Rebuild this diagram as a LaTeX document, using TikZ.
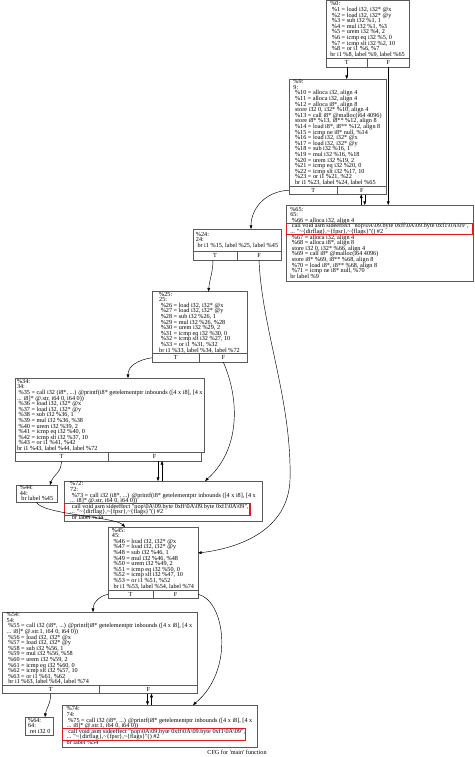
\documentclass[tikz,border=0pt]{standalone}
\usepackage{fontspec}
\usetikzlibrary{arrows.meta}
\newfontfamily\cfgfont{Liberation Serif}
\newcommand\cfgsize{\cfgfont\fontsize{6.2pt}{5.6pt}\selectfont\lineskiplimit=-4pt\relax}
\newcommand\BSL{\textbackslash}
\newcommand\TLD{\textasciitilde}
\newcommand\IN{\hspace*{1.6pt}}
\newcommand\FS{\rule{0pt}{4.6pt}}
\newcommand\LS{\rule[-1.4pt]{0pt}{1.4pt}}
\newcommand\REDA{call void asm sideeffect "nop\BSL 0A\BSL 09.byte 0xff\BSL 0A\BSL 09.byte 0xf1\BSL 0A\BSL 09",}
\newcommand\REDB{... "\TLD\{dirflag\},\TLD\{fpsr\},\TLD\{flags\}"() \#2}
\definecolor{hl}{RGB}{225,25,35}
\definecolor{bx}{RGB}{90,90,90}
\tikzset{
  blk/.style={draw=bx, line width=0.55pt, fill=white, anchor=north west, inner xsep=2pt, inner ysep=0pt, outer sep=0pt, font=\cfgsize, align=left},
  tfcell/.style={draw=bx, line width=0.55pt, fill=white, anchor=north west, inner sep=0pt, outer sep=0pt, minimum height=8.5pt, font=\cfgsize},
  arr/.style={draw=black, line width=0.45pt, -{Triangle[length=3.6pt,width=2.8pt]}},
  redbox/.style={draw=hl, line width=1.1pt},
}
\newcommand\TFrow[2]{%
  \node[tfcell, minimum width=#2] (#1T) at (#1.south west) {T};
  \node[tfcell, minimum width=#2] (#1F) at (#1T.north east) {F};}
\begin{document}
\begin{tikzpicture}[x=1pt,y=-1pt]
\fill[white] (0,0) rectangle (474,757);
\useasboundingbox (0,0) rectangle (474,757);

% %0
\node[blk, minimum width=83pt, minimum height=58pt] (n0) at (326,0.5) {\FS\%0:\\
\IN\%1 = load i32, i32* @x\\
\IN\%2 = load i32, i32* @y\\
\IN\%3 = sub i32 \%1, 1\\
\IN\%4 = mul i32 \%1, \%3\\
\IN\%5 = urem i32 \%4, 2\\
\IN\%6 = icmp eq i32 \%5, 0\\
\IN\%7 = icmp slt i32 \%2, 10\\
\IN\%8 = or i1 \%6, \%7\\
br i1 \%8, label \%9, label \%65\LS};
\TFrow{n0}{41.5pt}

% %9
\node[blk, minimum width=97pt, minimum height=107pt] (n9) at (289,79) {\FS\%9:\\
9:\\
\IN\%10 = alloca i32, align 4\\
\IN\%11 = alloca i32, align 4\\
\IN\%12 = alloca i8*, align 8\\
\IN store i32 0, i32* \%10, align 4\\
\IN\%13 = call i8* @malloc(i64 4096)\\
\IN store i8* \%13, i8** \%12, align 8\\
\IN\%14 = load i8*, i8** \%12, align 8\\
\IN\%15 = icmp ne i8* null, \%14\\
\IN\%16 = load i32, i32* @x\\
\IN\%17 = load i32, i32* @y\\
\IN\%18 = sub i32 \%16, 1\\
\IN\%19 = mul i32 \%16, \%18\\
\IN\%20 = urem i32 \%19, 2\\
\IN\%21 = icmp eq i32 \%20, 0\\
\IN\%22 = icmp slt i32 \%17, 10\\
\IN\%23 = or i1 \%21, \%22\\
\IN br i1 \%23, label \%24, label \%65\LS};
\TFrow{n9}{48.5pt}

% %65
\node[blk, minimum width=187pt, minimum height=76pt] (n65) at (286,205) {\FS\%65:\\
65:\\
\IN\%66 = alloca i32, align 4\\
\IN\REDA\\
\REDB\\
\IN\%67 = alloca i32, align 4\\
\IN\%68 = alloca i8*, align 8\\
\IN store i32 0, i32* \%66, align 4\\
\IN\%69 = call i8* @malloc(i64 4096)\\
\IN store i8* \%69, i8** \%68, align 8\\
\IN\%70 = load i8*, i8** \%68, align 8\\
\IN\%71 = icmp ne i8* null, \%70\\
br label \%9\LS};
\draw[redbox] ([xshift=0.6pt,yshift=-18.1pt]n65.north west) rectangle ([xshift=-0.6pt,yshift=-29.9pt]n65.north east);

% %24
\node[blk, minimum width=88pt, minimum height=22.5pt] (n24) at (193,229) {\FS\%24:\\
24:\\
\IN br i1 \%15, label \%25, label \%45\LS};
\TFrow{n24}{44pt}

% %25
\node[blk, minimum width=95pt, minimum height=62pt] (n25) at (152,291.5) {\FS\%25:\\
25:\\
\IN\%26 = load i32, i32* @x\\
\IN\%27 = load i32, i32* @y\\
\IN\%28 = sub i32 \%26, 1\\
\IN\%29 = mul i32 \%26, \%28\\
\IN\%30 = urem i32 \%29, 2\\
\IN\%31 = icmp eq i32 \%30, 0\\
\IN\%32 = icmp slt i32 \%27, 10\\
\IN\%33 = or i1 \%31, \%32\\
br i1 \%33, label \%34, label \%72\LS};
\TFrow{n25}{47.5pt}

% %34
\node[blk, minimum width=186pt, minimum height=74.5pt] (n34) at (15,378) {\FS\%34:\\
34:\\
\IN\%35 = call i32 (i8*, ...) @printf(i8* getelementptr inbounds ([4 x i8], [4 x\\
... i8]* @.str, i64 0, i64 0))\\
\IN\%36 = load i32, i32* @x\\
\IN\%37 = load i32, i32* @y\\
\IN\%38 = sub i32 \%36, 1\\
\IN\%39 = mul i32 \%36, \%38\\
\IN\%40 = urem i32 \%39, 2\\
\IN\%41 = icmp eq i32 \%40, 0\\
\IN\%42 = icmp slt i32 \%37, 10\\
\IN\%43 = or i1 \%41, \%42\\
br i1 \%43, label \%44, label \%72\LS};
\TFrow{n34}{93pt}

% %72
\node[blk, minimum width=198pt, minimum height=40pt] (n72) at (64,481) {\FS\%72:\\
72:\\
\IN\%73 = call i32 (i8*, ...) @printf(i8* getelementptr inbounds ([4 x i8], [4 x\\
... i8]* @.str, i64 0, i64 0))\\
\IN\REDA\\
\REDB\\
\IN br label \%34\LS};
\draw[redbox] ([xshift=0.6pt,yshift=-22.5pt]n72.north west) rectangle ([xshift=186pt,yshift=-34.3pt]n72.north west);

% %44
\node[blk, minimum width=41pt, minimum height=16.5pt] (n44) at (16,485) {\FS\%44:\\
44:\\
\IN br label \%45\LS};

% %45
\node[blk, minimum width=90pt, minimum height=63pt] (n45) at (108,527) {\FS\%45:\\
45:\\
\IN\%46 = load i32, i32* @x\\
\IN\%47 = load i32, i32* @y\\
\IN\%48 = sub i32 \%46, 1\\
\IN\%49 = mul i32 \%46, \%48\\
\IN\%50 = urem i32 \%49, 2\\
\IN\%51 = icmp eq i32 \%50, 0\\
\IN\%52 = icmp slt i32 \%47, 10\\
\IN\%53 = or i1 \%51, \%52\\
\IN br i1 \%53, label \%54, label \%74\LS};
\TFrow{n45}{45pt}

% %54
\node[blk, minimum width=195pt, minimum height=73pt] (n54) at (2,612) {\FS\%54:\\
54:\\
\IN\%55 = call i32 (i8*, ...) @printf(i8* getelementptr inbounds ([4 x i8], [4 x\\
... i8]* @.str.1, i64 0, i64 0))\\
\IN\%56 = load i32, i32* @x\\
\IN\%57 = load i32, i32* @y\\
\IN\%58 = sub i32 \%56, 1\\
\IN\%59 = mul i32 \%56, \%58\\
\IN\%60 = urem i32 \%59, 2\\
\IN\%61 = icmp eq i32 \%60, 0\\
\IN\%62 = icmp slt i32 \%57, 10\\
\IN\%63 = or i1 \%61, \%62\\
\IN br i1 \%63, label \%64, label \%74\LS};
\TFrow{n54}{97.5pt}

% %74
\node[blk, minimum width=195pt, minimum height=42pt] (n74) at (62,705) {\FS\%74:\\
74:\\
\IN\%75 = call i32 (i8*, ...) @printf(i8* getelementptr inbounds ([4 x i8], [4 x\\
... i8]* @.str.1, i64 0, i64 0))\\
\IN\REDA\\
\REDB\\
br label \%54\LS};
\draw[redbox] ([xshift=0.6pt,yshift=-23.5pt]n74.north west) rectangle ([xshift=183.7pt,yshift=-35.3pt]n74.north west);

% %64
\node[blk, minimum width=28.5pt, minimum height=18.5pt] (n64) at (25,717) {\FS\%64:\\
64:\\
\IN ret i32 0\LS};

% caption
\node[font=\cfgsize, anchor=base, inner sep=0pt] (cap) at (237,754) {CFG for 'main' function};

% edges
\draw[arr] (n0T.south) -- (n0T.south |- n9.north);
\draw[arr] (n0F.south) -- (n0F.south |- n65.north);
\draw[arr] (n9T.west) .. controls +(-24,1) and +(0,-20) .. ([xshift=58pt]n24.north west);
\draw[arr] ([xshift=3pt]n9F.south) -- ([xshift=3pt]n9F.south |- n65.north);
\draw[arr] ([xshift=-0.5pt]n9F.south |- n65.north) -- ([xshift=-0.5pt]n9F.south);
\draw[arr] ([xshift=-2pt]n24T.south) .. controls +(0,12) and +(1,-12) .. ([xshift=56.5pt]n25.north west);
\draw[arr] (n24F.south) .. controls (262,330) and (292,400) .. (290,480) .. controls (288,530) and (240,548) .. ([yshift=5.5pt]n45.east);
\draw[arr] (n25T.west) .. controls +(-14,2) and +(0,-12) .. ([xshift=113pt]n34.north west);
\draw[arr] (n25F.south) .. controls (240,400) and (240,450) .. ([xshift=141pt]n72.north west);
\draw[arr] (n34T.south) .. controls +(0,12) and +(3,-10) .. ([xshift=34pt]n44.north west);
\draw[arr] ([xshift=3.5pt]n34F.south) -- ([xshift=3.5pt]n34F.south |- n72.north);
\draw[arr] ([xshift=7.5pt]n34F.south |- n72.north) -- ([xshift=7.5pt]n34F.south);
\draw[arr] (n44.south) .. controls +(5,12) and +(-10,-10) .. ([xshift=17pt]n45.north west);
\draw[arr] (n45T.west) .. controls +(-10,2) and +(0,-8) .. ([xshift=91pt]n54.north west);
\draw[arr] (n45F.east) .. controls +(27,6) and +(42,-35) .. ([xshift=131pt]n74.north west);
\draw[arr] (n54T.south) .. controls +(0,10) and +(1,-8) .. ([xshift=20pt]n64.north west);
\draw[arr] ([xshift=-0.75pt]n54F.south) -- ([xshift=-0.75pt]n54F.south |- n74.north);
\draw[arr] ([xshift=3.25pt]n54F.south |- n74.north) -- ([xshift=3.25pt]n54F.south);
\end{tikzpicture}
\end{document}
